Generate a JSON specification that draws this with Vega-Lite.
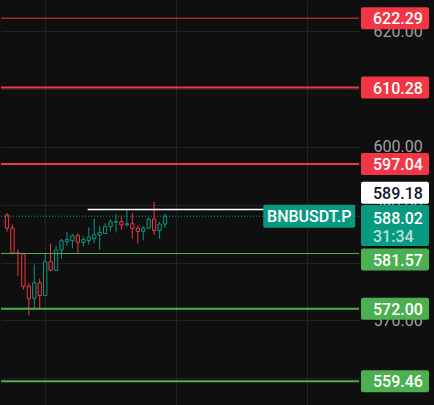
{
  "$schema": "https://vega.github.io/schema/vega-lite/v6.json",
  "background": "#0f0f0f",
  "padding": 0,
  "spacing": 0,
  "config": {
    "view": {"stroke": null},
    "font": "Roboto",
    "axis": {"gridColor": "#232323", "gridWidth": 1}
  },
  "datasets": {
    "candles": [
      {"idx": 1, "open": 588.22, "high": 588.57, "low": 585.40, "close": 585.98},
      {"idx": 2, "open": 585.98, "high": 586.55, "low": 581.38, "close": 581.67},
      {"idx": 3, "open": 581.67, "high": 582.24, "low": 577.64, "close": 581.55},
      {"idx": 4, "open": 581.50, "high": 581.70, "low": 575.34, "close": 575.91},
      {"idx": 5, "open": 575.91, "high": 576.50, "low": 570.86, "close": 573.74},
      {"idx": 6, "open": 573.74, "high": 579.66, "low": 572.19, "close": 576.50},
      {"idx": 7, "open": 576.50, "high": 577.24, "low": 572.02, "close": 574.31},
      {"idx": 8, "open": 574.31, "high": 581.72, "low": 574.19, "close": 580.12},
      {"idx": 9, "open": 580.12, "high": 583.28, "low": 578.50, "close": 578.67},
      {"idx": 10, "open": 578.67, "high": 582.93, "low": 578.60, "close": 582.19},
      {"idx": 11, "open": 582.19, "high": 584.09, "low": 580.69, "close": 583.79},
      {"idx": 12, "open": 583.67, "high": 585.34, "low": 582.93, "close": 583.97},
      {"idx": 13, "open": 583.79, "high": 585.00, "low": 582.47, "close": 584.66},
      {"idx": 14, "open": 584.66, "high": 585.12, "low": 581.67, "close": 583.50},
      {"idx": 15, "open": 583.50, "high": 584.53, "low": 582.81, "close": 583.97},
      {"idx": 16, "open": 583.84, "high": 586.09, "low": 583.10, "close": 584.43},
      {"idx": 17, "open": 584.14, "high": 587.59, "low": 583.40, "close": 584.83},
      {"idx": 18, "open": 584.78, "high": 586.38, "low": 582.24, "close": 585.22},
      {"idx": 19, "open": 585.05, "high": 586.84, "low": 584.95, "close": 586.21},
      {"idx": 20, "open": 586.21, "high": 587.53, "low": 585.40, "close": 587.07},
      {"idx": 21, "open": 587.00, "high": 588.45, "low": 585.22, "close": 587.05},
      {"idx": 22, "open": 587.07, "high": 588.10, "low": 585.69, "close": 586.50},
      {"idx": 23, "open": 586.55, "high": 589.31, "low": 586.26, "close": 586.72},
      {"idx": 24, "open": 586.72, "high": 588.57, "low": 584.14, "close": 585.91},
      {"idx": 25, "open": 585.91, "high": 586.38, "low": 583.28, "close": 585.40},
      {"idx": 26, "open": 585.40, "high": 586.26, "low": 583.84, "close": 585.98},
      {"idx": 27, "open": 585.98, "high": 587.81, "low": 585.86, "close": 587.53},
      {"idx": 28, "open": 587.53, "high": 590.52, "low": 584.83, "close": 585.57},
      {"idx": 29, "open": 585.57, "high": 587.07, "low": 584.14, "close": 586.67},
      {"idx": 30, "open": 586.67, "high": 588.40, "low": 585.98, "close": 588.02}
    ],
    "levels": [
      {"price": 622.29, "side": "resistance", "weight": "minor"},
      {"price": 610.28, "side": "resistance", "weight": "major"},
      {"price": 597.04, "side": "resistance", "weight": "major"},
      {"price": 581.57, "side": "support", "weight": "minor"},
      {"price": 572.00, "side": "support", "weight": "major"},
      {"price": 559.46, "side": "support", "weight": "major"}
    ],
    "ray": [{"price": 589.18, "start": 15.8}],
    "current": [{"price": 588.02, "symbol": "BNBUSDT.P", "countdown": "31:34"}]
  },
  "hconcat": [
    {
      "width": 358,
      "height": 405,
      "layer": [
        {
          "data": {"name": "candles"},
          "mark": {"type": "rule", "strokeWidth": 1, "clip": true},
          "encoding": {
            "x": {"field": "idx", "type": "quantitative",
              "scale": {"domain": [0.809, 64.69], "nice": false, "zero": false},
              "axis": {"values": [8, 32, 56], "grid": true, "labels": false, "ticks": false, "domain": false, "title": null}},
            "y": {"field": "low", "type": "quantitative",
              "scale": {"domain": [555.36, 625.43], "nice": false, "zero": false},
              "axis": {"values": [560, 570, 580, 590, 600, 610, 620], "grid": true, "labels": false, "ticks": false, "domain": false, "title": null}},
            "y2": {"field": "high"},
            "color": {"condition": {"test": "datum.close >= datum.open", "value": "#089981"}, "value": "#F23645"}
          }
        },
        {
          "data": {"name": "candles"},
          "mark": {"type": "bar", "size": 3.3, "fill": "#0f0f0f", "strokeWidth": 1, "clip": true},
          "encoding": {
            "x": {"field": "idx", "type": "quantitative"},
            "y": {"field": "open", "type": "quantitative"},
            "y2": {"field": "close"},
            "stroke": {"condition": {"test": "datum.close >= datum.open", "value": "#089981"}, "value": "#F23645"}
          }
        },
        {
          "data": {"name": "levels"},
          "mark": {"type": "rule"},
          "encoding": {
            "y": {"field": "price", "type": "quantitative"},
            "color": {"field": "side", "type": "nominal", "scale": {"domain": ["resistance", "support"], "range": ["#F23645", "#4CAF50"]}, "legend": null},
            "strokeWidth": {"field": "weight", "type": "ordinal", "scale": {"domain": ["minor", "major"], "range": [1, 2]}, "legend": null}
          }
        },
        {
          "data": {"name": "ray"},
          "mark": {"type": "rule", "color": "#ffffff", "strokeWidth": 1.5},
          "encoding": {
            "x": {"field": "start", "type": "quantitative"},
            "x2": {"datum": 64.69},
            "y": {"field": "price", "type": "quantitative"}
          }
        },
        {
          "data": {"name": "current"},
          "mark": {"type": "rule", "color": "#089981", "strokeDash": [1, 2], "strokeWidth": 1},
          "encoding": {
            "y": {"field": "price", "type": "quantitative"}
          }
        },
        {
          "data": {"name": "current"},
          "mark": {"type": "tick", "orient": "horizontal", "size": 92, "thickness": 23, "color": "#089981", "opacity": 1, "cornerRadius": 2},
          "encoding": {
            "x": {"datum": 56.47, "type": "quantitative"},
            "y": {"field": "price", "type": "quantitative"}
          }
        },
        {
          "data": {"name": "current"},
          "mark": {"type": "text", "color": "#ffffff", "fontSize": 16, "fontWeight": 500, "align": "center", "baseline": "middle", "dy": 1},
          "encoding": {
            "x": {"datum": 56.47, "type": "quantitative"},
            "y": {"field": "price", "type": "quantitative"},
            "text": {"field": "symbol"}
          }
        }
      ]
    },
    {
      "width": 76,
      "height": 405,
      "layer": [
        {
          "data": {"name": "levels"},
          "transform": [{"filter": "datum.price != 581.57"}],
          "mark": {"type": "tick", "orient": "horizontal", "size": 68, "thickness": 22, "xOffset": -3, "opacity": 1, "cornerRadius": 2},
          "encoding": {
            "y": {"field": "price", "type": "quantitative",
              "scale": {"domain": [555.36, 625.43], "nice": false, "zero": false},
              "axis": {"orient": "left", "offset": -13, "labelAlign": "left", "labelPadding": 0, "tickSize": 0, "ticks": false, "domain": false, "grid": false, "title": null,
                "values": [560, 570, 580, 590, 600, 610, 620], "format": ".2f", "labelFontSize": 16, "labelColor": "#a0a0a0", "labelFont": "Roboto", "labelBaseline": "middle"}},
            "color": {"field": "side", "type": "nominal", "scale": {"domain": ["resistance", "support"], "range": ["#F23645", "#4CAF50"]}, "legend": null}
          }
        },
        {
          "data": {"name": "levels"},
          "transform": [{"filter": "datum.price != 581.57"}],
          "mark": {"type": "text", "color": "#ffffff", "fontSize": 16, "fontWeight": 500, "align": "left", "baseline": "middle", "dx": -25, "dy": 1},
          "encoding": {
            "y": {"field": "price", "type": "quantitative"},
            "text": {"field": "price", "type": "quantitative", "format": ".2f"}
          }
        },
        {
          "data": {"name": "levels"},
          "transform": [{"filter": "datum.price == 581.57"}],
          "mark": {"type": "tick", "orient": "horizontal", "size": 68, "thickness": 22, "xOffset": -3, "yOffset": 6, "opacity": 1, "cornerRadius": 2},
          "encoding": {
            "y": {"field": "price", "type": "quantitative"},
            "color": {"field": "side", "type": "nominal", "legend": null}
          }
        },
        {
          "data": {"name": "levels"},
          "transform": [{"filter": "datum.price == 581.57"}],
          "mark": {"type": "text", "color": "#ffffff", "fontSize": 16, "fontWeight": 500, "align": "left", "baseline": "middle", "dx": -25, "dy": 1, "yOffset": 6},
          "encoding": {
            "y": {"field": "price", "type": "quantitative"},
            "text": {"field": "price", "type": "quantitative", "format": ".2f"}
          }
        },
        {
          "data": {"name": "ray"},
          "mark": {"type": "tick", "orient": "horizontal", "size": 68, "thickness": 22, "xOffset": -3, "yOffset": -16.7, "color": "#ffffff", "opacity": 1, "cornerRadius": 2},
          "encoding": {
            "y": {"field": "price", "type": "quantitative"}
          }
        },
        {
          "data": {"name": "ray"},
          "mark": {"type": "text", "color": "#131722", "fontSize": 16, "fontWeight": 500, "align": "left", "baseline": "middle", "dx": -25, "dy": 1, "yOffset": -16.7},
          "encoding": {
            "y": {"field": "price", "type": "quantitative"},
            "text": {"field": "price", "type": "quantitative", "format": ".2f"}
          }
        },
        {
          "data": {"name": "current"},
          "mark": {"type": "tick", "orient": "horizontal", "size": 68, "thickness": 41, "xOffset": -3, "yOffset": 9.3, "color": "#089981", "opacity": 1, "cornerRadius": 2},
          "encoding": {
            "y": {"field": "price", "type": "quantitative"}
          }
        },
        {
          "data": {"name": "current"},
          "mark": {"type": "text", "color": "#ffffff", "fontSize": 16, "fontWeight": 500, "align": "left", "baseline": "middle", "dx": -25, "dy": 1, "yOffset": 1.3},
          "encoding": {
            "y": {"field": "price", "type": "quantitative"},
            "text": {"field": "price", "type": "quantitative", "format": ".2f"}
          }
        },
        {
          "data": {"name": "current"},
          "mark": {"type": "text", "color": "#b4e2d9", "fontSize": 16, "fontWeight": 500, "align": "left", "baseline": "middle", "dx": -25, "dy": 1, "yOffset": 19.8},
          "encoding": {
            "y": {"field": "price", "type": "quantitative"},
            "text": {"field": "countdown"}
          }
        }
      ]
    }
  ]
}
